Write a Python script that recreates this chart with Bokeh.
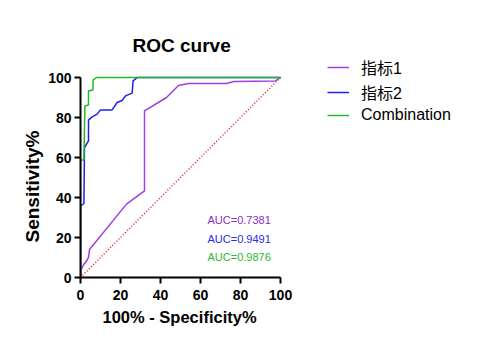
from bokeh.plotting import figure
from bokeh.models import Legend, LegendItem, Range1d, FixedTicker, Label, Title
from bokeh.embed import file_html
from bokeh.resources import INLINE

# ROC data (x = 100% - Specificity%, y = Sensitivity%)
m1_x = [0, 0, 1.7, 2.5, 4, 4.5, 23, 32, 32, 43, 49, 54, 73, 76.7, 97.5, 100]
m1_y = [0, 3.3, 6.7, 7.5, 10, 14, 36.7, 43.3, 83.3, 90, 96, 97, 97, 98, 98.3, 100]

m2_x = [0, 0, 1.7, 2, 4, 4, 5.8, 8.3, 10, 15.8, 18.3, 20.8, 22.5, 25.8, 26.3, 28, 28.3, 100]
m2_y = [0, 35.8, 37, 65, 68.3, 78.7, 80.3, 81.7, 83.8, 83.8, 87.5, 88.5, 90.8, 92.2, 98.3, 99.7, 100, 100]

cb_x = [0, 0, 1.7, 2.2, 4, 4, 6.2, 6.3, 8, 100]
cb_y = [0, 58.7, 58.7, 85.8, 86.2, 93.3, 93.7, 98.7, 100, 100]

ref_x = [0, 100]
ref_y = [0, 100]

series_names = ["指标1", "指标2", "Combination"]
auc_labels = ["AUC=0.7381", "AUC=0.9491", "AUC=0.9876"]
ticks = [0, 20, 40, 60, 80, 100]

c1, c2, c3 = "#A43CE6", "#1E1EF5", "#22BB22"
t1, t2, t3 = "#8A2EC4", "#2A2AF0", "#2DB82D"

FONT = "Liberation Sans, 'Noto Sans CJK SC', Arial, sans-serif"

# frame extends to the right edge / above 100 so the legend is not clipped;
# the axes are bounded to 0..100
p = figure(width=477, height=356, output_backend="svg", toolbar_location=None,
           x_range=Range1d(0, 198.5), y_range=Range1d(0, 110.5),
           min_border_left=80, min_border_right=0, min_border_top=56, min_border_bottom=79,
           title="ROC curve")
p.title.align = "left"
p.title.text_font = FONT
p.title.text_font_size = "19px"
p.title.text_font_style = "bold"
p.title.text_color = "black"
p.title.offset = 52
p.title.standoff = 2

p.outline_line_color = None
p.grid.visible = False
p.background_fill_color = "white"
p.border_fill_color = "white"

for ax in (p.xaxis[0], p.yaxis[0]):
    ax.ticker = FixedTicker(ticks=ticks)
    ax.bounds = (0, 100)
    ax.axis_line_width = 2
    ax.axis_line_color = "black"
    ax.major_tick_line_width = 2
    ax.major_tick_line_color = "black"
    ax.major_tick_out = 6
    ax.major_tick_in = 0
    ax.minor_tick_line_color = None
    ax.major_label_text_font = FONT
    ax.major_label_text_font_size = "14px"
    ax.major_label_text_font_style = "bold"
    ax.major_label_text_color = "black"

p.xaxis.major_label_standoff = 6
p.yaxis.major_label_standoff = 3

xlab = Title(text="100% - Specificity%", align="left", offset=22, standoff=6,
             text_font=FONT, text_font_size="16.5px", text_font_style="bold", text_color="black")
p.add_layout(xlab, "below")
ylab = Title(text="Sensitivity%", align="left", offset=35, standoff=6,
             text_font=FONT, text_font_size="19px", text_font_style="bold", text_color="black")
p.add_layout(ylab, "left")

p.line(ref_x, ref_y, line_color="#E02020", line_width=1.5, line_dash="1 2")
r1 = p.line(m1_x, m1_y, line_color=c1, line_width=1.5)
r2 = p.line(m2_x, m2_y, line_color=c2, line_width=1.5)
r3 = p.line(cb_x, cb_y, line_color=c3, line_width=1.5)

for lab, yv, col in zip(auc_labels, [29, 19.5, 10.5], [t1, t2, t3]):
    p.add_layout(Label(x=63.5, y=yv, text=lab, text_color=col, text_font=FONT,
                       text_font_size="11px", text_baseline="middle", text_align="left"))

legend = Legend(items=[LegendItem(label=n, renderers=[r]) for n, r in zip(series_names, [r1, r2, r3])],
                location=(247, 152), border_line_color=None, background_fill_alpha=0,
                label_text_font=FONT, label_text_font_size="16px", label_text_color="black",
                glyph_width=22, spacing=1, label_standoff=12, padding=0, margin=0)
p.add_layout(legend, "center")

open("out.html", "w").write(file_html(p, INLINE))
